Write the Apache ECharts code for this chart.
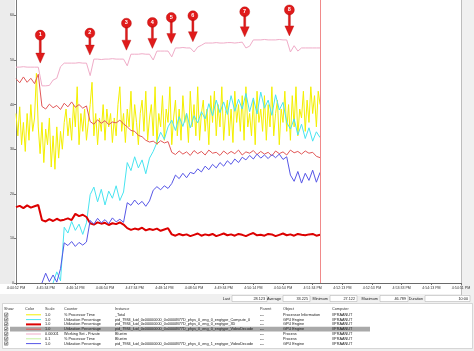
<!DOCTYPE html>
<html><head><meta charset="utf-8">
<script src="https://cdn.jsdelivr.net/npm/echarts@6/dist/echarts.min.js"></script>
<style>html,body{margin:0;padding:0;background:#fff}#c{width:474px;height:351px}</style>
</head><body><div id="c"></div><script>
// ---------- data ----------
const times = [0,5,10,15,20,25,30,35,40,45,50,55,60,65,70,75,80,85,90,95,100,105,110,115,120,125,130,135,140,145,150,155,160,165,170,175,180,185,190,195,200,205,210,215,220,225,230,235,240,245,250,255,260,265,270,275,280,285,290,295,300,305,310,315,320,325,330,335,340,345,350,355,360,365,370,375,380,385,390,395,400,405,410];
const timesFine = [0,2.5,5,7.5,10,12.5,15,17.5,20,22.5,25,27.5,30,32.5,35,37.5,40,42.5,45,47.5,50,52.5,55,57.5,60,62.5,65,67.5,70,72.5,75,77.5,80,82.5,85,87.5,90,92.5,95,97.5,100,102.5,105,107.5,110,112.5,115,117.5,120,122.5,125,127.5,130,132.5,135,137.5,140,142.5,145,147.5,150,152.5,155,157.5,160,162.5,165,167.5,170,172.5,175,177.5,180,182.5,185,187.5,190,192.5,195,197.5,200,202.5,205,207.5,210,212.5,215,217.5,220,222.5,225,227.5,230,232.5,235,237.5,240,242.5,245,247.5,250,252.5,255,257.5,260,262.5,265,267.5,270,272.5,275,277.5,280,282.5,285,287.5,290,292.5,295,297.5,300,302.5,305,307.5,310,312.5,315,317.5,320,322.5,325,327.5,330,332.5,335,337.5,340,342.5,345,347.5,350,352.5,355,357.5,360,362.5,365,367.5,370,372.5,375,377.5,380,382.5,385,387.5,390,392.5,395,397.5,400,402.5,405,407.5,410];
const timeLabels = ['4:44:52 PM','4:45:34 PM','4:46:14 PM','4:46:54 PM','4:47:34 PM','4:48:14 PM','4:48:54 PM','4:49:34 PM','4:50:14 PM','4:50:54 PM','4:51:34 PM','4:52:13 PM','4:52:53 PM','4:53:33 PM','4:54:13 PM','4:54:51 PM'];
const yTicks = [0,10,20,30,40,50,60];

const procTotal = [38,33,39.5,31,36,29.5,38,32,40,34,37,47,35,
  29,36,27,34.5,31,37,26,33,25.5,35,28,34,30,36,
  39,33,37,32,40,35,44,31,38,34, 39,32,36,40,45,33,38,31,37,34, 40,32,39,35,38,31.5,37,33,40,44, 34,38,31.5,
  39,35,43,33,40,36,31,38,41,34,
  43,32,37,40,33,44,31,38,35,42,
  32,39,36,44,31,37,41,33,39,32,
  42,36,38,31.5,43,35,40,33,44,32,
  38,41,34,39,31,42,36,43,33,40,
  35,44,32,38,41,33,39,31.5,43,36,
  40,34,42,32,44,35,38,33,41,31,
  43,36,39,34,42,32,40,35,44,33,
  38,41,31,39,36,43,34,40,32,42,
  35,44,33,39,37,43,34,41,36,44,
  38,42,35,43,40];
const compute0 = [null,null,null,null,null,null,null,null,null,null,0,2.5,0.5,
  12.5,11.2,13.8,11.8,13.2,10.9,13.5,
  19.8,21.5,18.2,21.0,17.5,20.6,19.0,21.8,18.5,20.4,
  27.0,25.2,28.3,25.8,27.6,24.5,28.0,
  29.5,31.5,33.8,32.2,35.0, 36.5,34.2,37.3,35.1,38.0,34.8,37.5,35.9,38.4,
  36.8,40.2,37.5,41.0,38.2,40.6,37.8,42.0,38.5,41.2, 39.0,42.5,38.4,41.5,37.9,42.8,39.2,41.0,37.6,42.2,
  38.8,40.5, 36.0,34.5,36.8,33.2,35.6,32.4,34.8,31.8,33.9,32.6];
const util3D = [17.0,17.3,16.8,17.4,16.9,17.2,17.5,
  14.1,13.8,14.3,13.9,14.4,14.0,14.2,14.5,14.1,
  15.5,15.0,15.3,14.8,
  13.4,13.1,13.6,13.3,13.5,13.0,13.4,13.2,13.6,13.1,
  12.3,11.9,12.2,12.0,12.4,11.8,12.1,11.9,12.2,11.7,12.0,12.3,
  10.9,10.6,11.0,10.7,10.9,10.5,10.8,11.1,10.6,10.9, 10.7,11.0,10.5,10.8,11.1,10.7,10.9,10.6,11.0,10.8,
  10.5,10.9,11.2,10.7,10.8,10.6,11.0,10.9,10.5,10.8, 11.1,10.7,10.9,10.6,11.0,10.8,10.7,10.9,11.0,10.6, 10.8];
const videoDecode = [45.8,44.9,46.2,45.0,45.9,44.7,46.8,
  39.6,39.0,40.1,39.3,39.8,38.9,40.3,39.5,40.6,39.4,40.0,39.2,39.7,
  36.2,35.6,36.6,35.8,36.4,35.5,36.1,35.9,36.5,35.7,
  35.0,34.2,34.0,33.1,32.8,32.0,31.6,
  31.8,31.2,31.9,31.4,31.7,
  29.3,28.8,29.6,28.9,29.4,28.6,29.7,29.0,29.5,28.7, 29.8,29.1,29.3,28.6,29.6,28.9,29.5,29.0,29.8,28.7,
  29.4,29.1,29.7,28.8,29.5,28.9,29.3,28.5,29.6,29.0, 29.4,28.7,29.8,29.2,29.5,28.9,29.6,29.1,29.3,28.4, 28.1];
const workingSet = [48.4,48.4,48.5,48.4,48.4,48.4,48.4,
  44.2,44.2,44.3,45.5,45.9, 48.5,
  49.3,49.3,49.3,49.3,49.4,49.3,49.3, 46.5,
  50.2,50.2,50.1,50.2,50.2,50.3,50.2,50.2,50.2, 48.7,
  51.3,51.3,51.3,51.4,51.3,51.3, 50.0,
  52.0,52.0,52.0,52.0, 50.7,
  52.7,52.7,52.8,52.7,52.7, 51.8, 52.9,53.3,
  53.8,53.8,53.8,53.9,53.8,53.8,53.9,53.9,53.8,53.9,54.0, 52.7, 53.1,
  54.5,54.5,54.5,54.6,54.5,54.5,54.5,54.6,54.5,54.5, 51.8,53.2,52.0,
  52.7,52.7,52.7,52.7,52.7,52.7];
const videoDecode1 = [null,null,null,null,null,null,null, 0,2.2,0.3,1.8,0.2,3.2,
  9.0,8.4,9.3,8.2,9.1,8.5,9.2,
  14.0,13.2,14.5,13.5,14.2,13.3,14.6,13.7,14.3,13.6,
  18.0,17.4,18.6,17.6,18.3,17.2,18.4,
  20.8,21.6,20.9,21.8,21.2, 22.3,
  24.2,23.4,24.6,23.6,24.8,
  24.5,25.6,24.9,26.2,25.4,26.6,25.8,27.0,26.2,27.4,26.6,27.8,27.0,28.2,
  27.6,28.6,27.8,28.9,28.0,28.7,27.9,28.8,28.1,28.9,27.7,28.3,
  24.2,22.8,25.0,22.4,24.6,23.0,25.3,22.6,24.8];
const nowTime = 410;
const arrowTimes = [32.7, 99.6, 148.9, 183.9, 209.4, 238.5, 308.4, 368.6];
const arrowValues = [49.3, 51.1, 52.2, 52.6, 53.7, 54.1, 55.2, 55.4];

const statLabels = ['Last','Average','Minimum','Maximum','Duration'];
const statValues = ['28.123','33.225','27.122','46.789','10:00'];

const colHeaders = ['Show','Color','Scale','Counter','Instance','Parent','Object','Computer'];
const rowScales = ['1.0','1.0','1.0','1.0','0.00001','0.1','1.0'];
const rowCounters = ['% Processor Time','Utilization Percentage','Utilization Percentage','Utilization Percentage','Working Set - Private','% Processor Time','Utilization Percentage'];
const rowInstances = ['_Total',
 'pid_7984_luid_0x00000000_0x0000B77D_phys_0_eng_0_engtype_Compute_0',
 'pid_7984_luid_0x00000000_0x0000B77D_phys_0_eng_0_engtype_3D',
 'pid_7984_luid_0x00000000_0x0000B77D_phys_0_eng_0_engtype_VideoDecode',
 'Bluetrn','Bluetrn',
 'pid_7984_luid_0x00000000_0x0000B77D_phys_0_eng_1_engtype_VideoDecode'];
const rowParents = ['---','---','---','---','---','---','---'];
const rowObjects = ['Processor Information','GPU Engine','GPU Engine','GPU Engine','Process','Process','GPU Engine'];
const rowComputers = ['\\\\PRAANUT','\\\\PRAANUT','\\\\PRAANUT','\\\\PRAANUT','\\\\PRAANUT','\\\\PRAANUT','\\\\PRAANUT'];

// ---------- styles ----------
const FONT = 'Liberation Sans';
const C = {yellow:'#f4f000', cyan:'#48e4f0', red:'#dc0000', lred:'#e25858', pink:'#f0acc8', blue:'#5656e6', green:'#c8f0a0'};
const rowColors = [C.yellow, C.cyan, C.red, C.lred, C.pink, C.green, C.blue];
const rowWidths = [1,1,2,1,1,1,1];
const arrowLen = [33, 27, 32, 31, 31, 31, 30, 31];

function pts(vals, ts){ ts = ts || times; return ts.map((t,i)=>[t, vals[i]]); }
function arrowPath(len){
  const L = len*2;
  return 'path://M0,10A10,10,0,1,1,20,10A10,10,0,1,1,0,10Z M8,18L12,18L12,'+(L-20)+'L19,'+(L-20)+'L10,'+L+'L1,'+(L-20)+'L8,'+(L-20)+'Z';
}
function txt(x,y,text,size,opts){
  return {type:'text', x:x, y:y, z:10, silent:true,
    style:Object.assign({text:text, fontSize:size||3.8, fontFamily:FONT, fill:'#1a1a1a', align:'left', verticalAlign:'middle'}, (opts||{}))};
}

const chart = echarts.init(document.getElementById('c'));
const g = [];
// backgrounds
g.push({type:'rect', z:-5, silent:true, shape:{x:0,y:0,width:15,height:284}, style:{fill:'#ececec'}});
g.push({type:'rect', z:-5, silent:true, shape:{x:461,y:0,width:13,height:295}, style:{fill:'#f0f0f0'}});
g.push({type:'line', z:-4, silent:true, shape:{x1:461.5,y1:0,x2:461.5,y2:295}, style:{stroke:'#bdbdbd', lineWidth:1}});
g.push({type:'rect', z:-5, silent:true, shape:{x:0,y:294,width:474,height:57}, style:{fill:'#f0f0f0'}});
// stats bar
const statLabelX = [230, 281, 328, 378, 423];
const statBox = [[232,267],[283,310],[330,357],[380,408],[425,470]];
statLabels.forEach((s,i)=>{
  g.push(txt(statLabelX[i], 298.5, s, 3.8, {align:'right'}));
  g.push({type:'rect', z:5, silent:true, shape:{x:statBox[i][0], y:295.5, width:statBox[i][1]-statBox[i][0], height:6}, style:{fill:'#fff', stroke:'#b8b8b8', lineWidth:0.6}});
  g.push(txt(statBox[i][1]-2, 298.5, statValues[i], 3.8, {align:'right'}));
});
// table
g.push({type:'rect', z:5, silent:true, shape:{x:2.5,y:303.5,width:470,height:45}, style:{fill:'#fff', stroke:'#c0c0c0', lineWidth:0.6}});
const colX = [4, 25, 45, 64, 115, 260, 283, 332];
colHeaders.forEach((h,i)=>g.push(txt(colX[i], 309, h, 3.8, {fill:'#333'})));
const rowY = [314.8, 319.6, 324.4, 329.2, 334, 338.8, 343.6];
g.push({type:'rect', z:6, silent:true, shape:{x:10,y:rowY[3]-2.4,width:360,height:4.8}, style:{fill:'#a9a9a9'}});
rowY.forEach((y,i)=>{
  g.push({type:'rect', z:7, silent:true, shape:{x:4.5,y:y-1.8,width:3.4,height:3.4}, style:{fill:'#fff', stroke:'#444', lineWidth:0.5}});
  g.push({type:'polyline', z:8, silent:true, shape:{points:[[5.2,y-0.2],[6.0,y+0.9],[7.3,y-1.2]]}, style:{stroke:'#111', lineWidth:0.6, fill:null}});
  g.push({type:'line', z:7, silent:true, shape:{x1:26,y1:y,x2:41,y2:y}, style:{stroke:rowColors[i], lineWidth:rowWidths[i]}});
  g.push(txt(colX[2], y, rowScales[i]));
  g.push(txt(colX[3], y, rowCounters[i]));
  g.push(txt(colX[4], y, rowInstances[i], 3.8, {width:142, overflow:'truncate', ellipsis:''}));
  g.push(txt(colX[5], y, rowParents[i]));
  g.push(txt(colX[6], y, rowObjects[i]));
  g.push(txt(colX[7], y, rowComputers[i]));
});

function lineSeries(name, data, color, width, extra){
  return Object.assign({type:'line', name:name, data:data, showSymbol:false, symbol:'none', silent:true,
    lineStyle:{color:color, width:width}, itemStyle:{color:color}, connectNulls:false, animation:false}, extra||{});
}

chart.setOption({
  animation:false,
  backgroundColor:'#ffffff',
  grid:{left:16, right:13, top:0, bottom:68, show:true, backgroundColor:'#ffffff', borderWidth:0},
  xAxis:{type:'value', min:0, max:600, interval:40,
    axisLine:{lineStyle:{color:'#6a6a6a', width:1}},
    axisTick:{length:2, lineStyle:{color:'#6a6a6a'}},
    axisLabel:{fontSize:3.6, fontFamily:FONT, color:'#333', margin:3, showMinLabel:true, showMaxLabel:true,
      formatter:v=>timeLabels[Math.round(v/40)]||''},
    splitLine:{show:false}},
  yAxis:{type:'value', min:0, max:63.45, interval:10,
    axisLine:{show:true, lineStyle:{color:'#7a7a7a', width:1}},
    axisTick:{show:true, length:2, lineStyle:{color:'#7a7a7a'}},
    axisLabel:{fontSize:3.6, fontFamily:FONT, color:'#333', margin:2, showMaxLabel:false,
      formatter:v=>yTicks.indexOf(v)>=0?String(v):''},
    splitLine:{show:false}},
  graphic:{elements:g},
  series:[
    lineSeries('% Processor Time _Total', pts(procTotal, timesFine), C.yellow, 1),
    lineSeries('Compute_0', pts(compute0), C.cyan, 1),
    lineSeries('3D', pts(util3D), C.red, 2),
    lineSeries('VideoDecode', pts(videoDecode), C.lred, 1, {
      markLine:{silent:true, symbol:['none','none'], label:{show:false}, animation:false,
        lineStyle:{color:'#f08a8a', width:1, type:'solid'}, data:[{xAxis:nowTime}]}}),
    lineSeries('Working Set - Private', pts(workingSet), C.pink, 1, {
      markPoint:{silent:true, animation:false,
        data:arrowTimes.map((t,i)=>({name:String(i+1), coord:[t, arrowValues[i]],
          symbol:arrowPath(arrowLen[i]), symbolSize:[10, arrowLen[i]], symbolOffset:[0, -arrowLen[i]/2],
          itemStyle:{color:'#e01b1b', borderColor:'#b00000', borderWidth:0.3},
          label:{show:true, position:[5,5], align:'center', verticalAlign:'middle', formatter:'{b}', color:'#fff', fontSize:5.5, fontWeight:'bold', fontFamily:FONT}}))}}),
    lineSeries('VideoDecode 1', pts(videoDecode1), C.blue, 1)
  ]
});
</script></body></html>
